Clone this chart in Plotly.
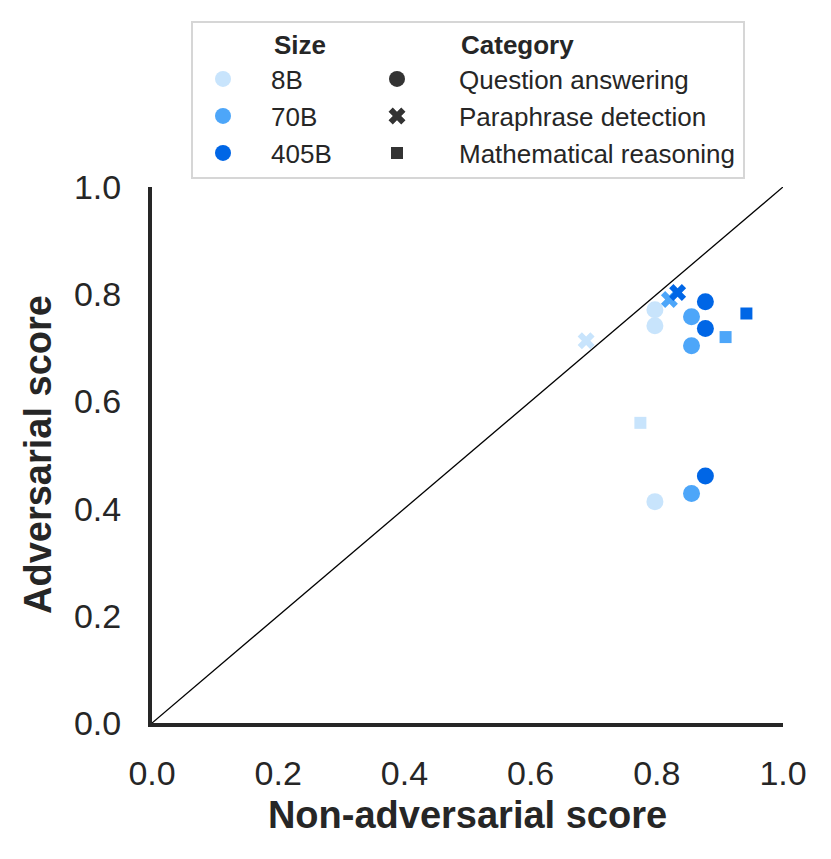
import plotly.graph_objects as go

# --- Data ---

sizes = ["8B", "70B", "405B"]
size_colors = ["#c8e4fc", "#4da6f9", "#0066e6"]

categories = ["Question answering", "Paraphrase detection", "Mathematical reasoning"]
category_symbols = ["circle", "x", "square"]
category_marker_px = [17, 15, 12]

# Question answering
qa_size = ["8B", "8B", "8B", "70B", "70B", "70B", "405B", "405B", "405B"]
qa_x = [0.797, 0.797, 0.797, 0.855, 0.855, 0.855, 0.877, 0.877, 0.877]
qa_y = [0.771, 0.741, 0.413, 0.758, 0.704, 0.428, 0.786, 0.736, 0.461]

# Paraphrase detection
pd_size = ["8B", "70B", "405B"]
pd_x = [0.688, 0.820, 0.833]
pd_y = [0.713, 0.790, 0.803]

# Mathematical reasoning
mr_size = ["8B", "70B", "405B"]
mr_x = [0.774, 0.909, 0.942]
mr_y = [0.560, 0.720, 0.764]

ticks = [0.0, 0.2, 0.4, 0.6, 0.8, 1.0]

text_color = "#262626"
font_family = "Liberation Sans, Arial, sans-serif"
W, H = 831, 859

fig = go.Figure()

# diagonal reference line
fig.add_trace(go.Scatter(x=[0, 1], y=[0, 1], mode="lines",
                         line=dict(color="black", width=1.3),
                         showlegend=False, hoverinfo="skip"))

# data points, one trace per category/size
cat_data = [(qa_size, qa_x, qa_y), (pd_size, pd_x, pd_y), (mr_size, mr_x, mr_y)]
for ci, (s_list, xs, ys) in enumerate(cat_data):
    for si, s in enumerate(sizes):
        px_ = [x for x, k in zip(xs, s_list) if k == s]
        py_ = [y for y, k in zip(ys, s_list) if k == s]
        fig.add_trace(go.Scatter(
            x=px_, y=py_, mode="markers",
            marker=dict(symbol=category_symbols[ci], size=category_marker_px[ci],
                        color=size_colors[si], line=dict(width=0)),
            name=f"{s} - {categories[ci]}", showlegend=False))

# --- Legend: one small legend per row so the rows sit where they should ---
row_y = [71, 108, 145]
legends = {}
for i, s in enumerate(sizes):
    key = "legend" if i == 0 else f"legend{i + 1}"
    fig.add_trace(go.Scatter(x=[None], y=[None], mode="markers", name=s,
                             marker=dict(symbol="circle", size=17, color=size_colors[i]),
                             legend=key))
    legends[key] = dict(x=167 / W, y=1 - row_y[i] / H, xref="container", yref="container",
                        xanchor="left", yanchor="middle", itemwidth=86,
                        bgcolor="rgba(0,0,0,0)", font=dict(size=26, color=text_color))
for i, c in enumerate(categories):
    key = f"legend{i + 4}"
    fig.add_trace(go.Scatter(x=[None], y=[None], mode="markers", name=c,
                             marker=dict(symbol=category_symbols[i], size=category_marker_px[i],
                                         color="#333333"),
                             legend=key))
    legends[key] = dict(x=327 / W, y=1 - row_y[i] / H, xref="container", yref="container",
                        xanchor="left", yanchor="middle", itemwidth=114,
                        bgcolor="rgba(0,0,0,0)", font=dict(size=26, color=text_color))

fig.update_layout(**legends)

# legend frame and headers
fig.add_shape(type="rect", xref="paper", yref="paper",
              x0=(192 - 152) / 631, x1=(744 - 152) / 631,
              y0=(723 - 178) / 536, y1=(723 - 22) / 536,
              line=dict(color="#d6d6d6", width=2), fillcolor="rgba(0,0,0,0)", layer="below")
fig.add_annotation(text="<b>Size</b>", xref="paper", yref="paper",
                   x=(272 - 152) / 631, y=(723 - 45) / 536, xanchor="left", yanchor="middle",
                   showarrow=False, font=dict(size=26, color=text_color))
fig.add_annotation(text="<b>Category</b>", xref="paper", yref="paper",
                   x=(459 - 152) / 631, y=(723 - 45) / 536, xanchor="left", yanchor="middle",
                   showarrow=False, font=dict(size=26, color=text_color))

# y axis title as a rotated annotation (keeps it on the left)
fig.add_annotation(text="<b>Adversarial score</b>", xref="paper", yref="paper",
                   x=(38 - 152) / 631, y=0.5, xanchor="center", yanchor="middle",
                   textangle=-90, showarrow=False, font=dict(size=38, color=text_color))

axis_common = dict(range=[0, 1], tickvals=ticks, tickformat=".1f", showgrid=False,
                   zeroline=False, showline=True, linecolor=text_color, linewidth=4,
                   ticks="", tickfont=dict(size=34, color=text_color))

# the page has an 8px body offset, so margins are shifted to compensate
fig.update_layout(
    width=W, height=H,
    margin=dict(l=144, r=56, t=179, b=144, autoexpand=False),
    plot_bgcolor="white", paper_bgcolor="white",
    font=dict(family=font_family, color=text_color),
    xaxis=dict(**axis_common, ticklabelstandoff=17,
               title=dict(text="<b>Non-adversarial score</b>", font=dict(size=38), standoff=12)),
    yaxis=dict(**axis_common, ticklabelstandoff=20),
)

fig.write_html("out.html")
